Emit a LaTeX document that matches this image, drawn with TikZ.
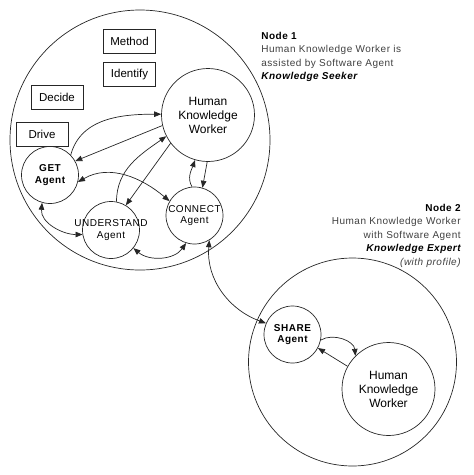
\documentclass[tikz,border=0pt]{standalone}
\usepackage{fontspec}
\setmainfont{Liberation Sans}
\newfontfamily\widefont[LetterSpace=5]{Liberation Sans}
\usetikzlibrary{arrows.meta}
\begin{document}
\begin{tikzpicture}[x=1pt,y=-1pt,line width=0.7pt,draw=black!85,
    >={Triangle[length=7pt,width=5.5pt]},
    realm/.style={circle,draw,inner sep=0pt},
    worker/.style={circle,draw,inner sep=0pt,minimum size=93pt,align=center,font=\fontsize{12}{14}\selectfont},
    agent/.style={circle,draw,inner sep=0pt,minimum size=57pt},
    agenttext/.style={align=center,inner sep=0pt,font=\widefont\fontsize{10}{11.5}\selectfont},
    boldtext/.style={agenttext,font=\widefont\bfseries\fontsize{10}{11.5}\selectfont},
    tag/.style={draw,minimum width=52pt,minimum height=24pt,inner sep=0pt,font=\fontsize{11.5}{13}\selectfont},
    note/.style={inner sep=0pt,font=\widefont\fontsize{10}{13.5}\selectfont,text=black!75}]
  \useasboundingbox (0,0) rectangle (474,475);
  \node[realm,minimum size=260pt] (seeker) at (140,140) {};
  \node[realm,minimum size=208pt] (expert) at (352.5,362) {};
  \node[tag] (method) at (129.5,41) {Method};
  \node[tag] (identify) at (129.5,74.5) {Identify};
  \node[tag] (decide) at (57,97) {Decide};
  \node[tag] (drive) at (42,134) {Drive};
  \node[worker] (hkw) at (208,115) {Human\\Knowledge\\Worker};
  \node[agent,label={[boldtext]center:GET\\Agent}] (get) at (50,175) {};
  \node[agent,label={[agenttext]center:UNDERSTAND\\Agent}] (und) at (111,230) {};
  \node[agent,label={[agenttext]center:CONNECT\\Agent}] (connect) at (194.5,215.5) {};
  \node[agent,label={[boldtext]center:SHARE\\Agent}] (share) at (292.5,334.5) {};
  \node[worker] (hkwtwo) at (388.5,389) {Human\\Knowledge\\Worker};
  \node[note,anchor=north west,align=left] (seekernote) at (261,31.5)
    {\textcolor{black}{\bfseries Node 1}\\Human Knowledge Worker is\\assisted by Software Agent\\\textcolor{black}{\bfseries\itshape Knowledge Seeker}};
  \node[note,anchor=north east,align=right] (expertnote) at (461,203.5)
    {\textcolor{black}{\bfseries Node 2}\\Human Knowledge Worker\\with Software Agent\\\textcolor{black}{\bfseries\itshape Knowledge Expert}\\\itshape(with profile)};
  \draw[->] (get.44) to[out=75,in=180] (hkw.179);
  \draw[->] (hkw.193) -- (get.29);
  \draw[->] (und.79) to[out=90,in=215] (hkw.207);
  \draw[->] (hkw.217) -- (und.59);
  \draw[->] (connect.95) to[out=120,in=250] (hkw.254);
  \draw[->] (hkw.269) -- (connect.74);
  \draw[<->] (get.346) to[out=30,in=140] (connect.150);
  \draw[<->] (get.254) to[out=265,in=180] (und.189);
  \draw[<->] (und.321) to[out=-40,in=235] (connect.253);
  \draw[<->] (connect.301) to[out=265,in=160] (share.157);
  \draw[->] (share.349) to[out=30,in=95] (hkwtwo.135);
  \draw[->] (hkwtwo.151) -- (share.332);
\end{tikzpicture}
\end{document}
